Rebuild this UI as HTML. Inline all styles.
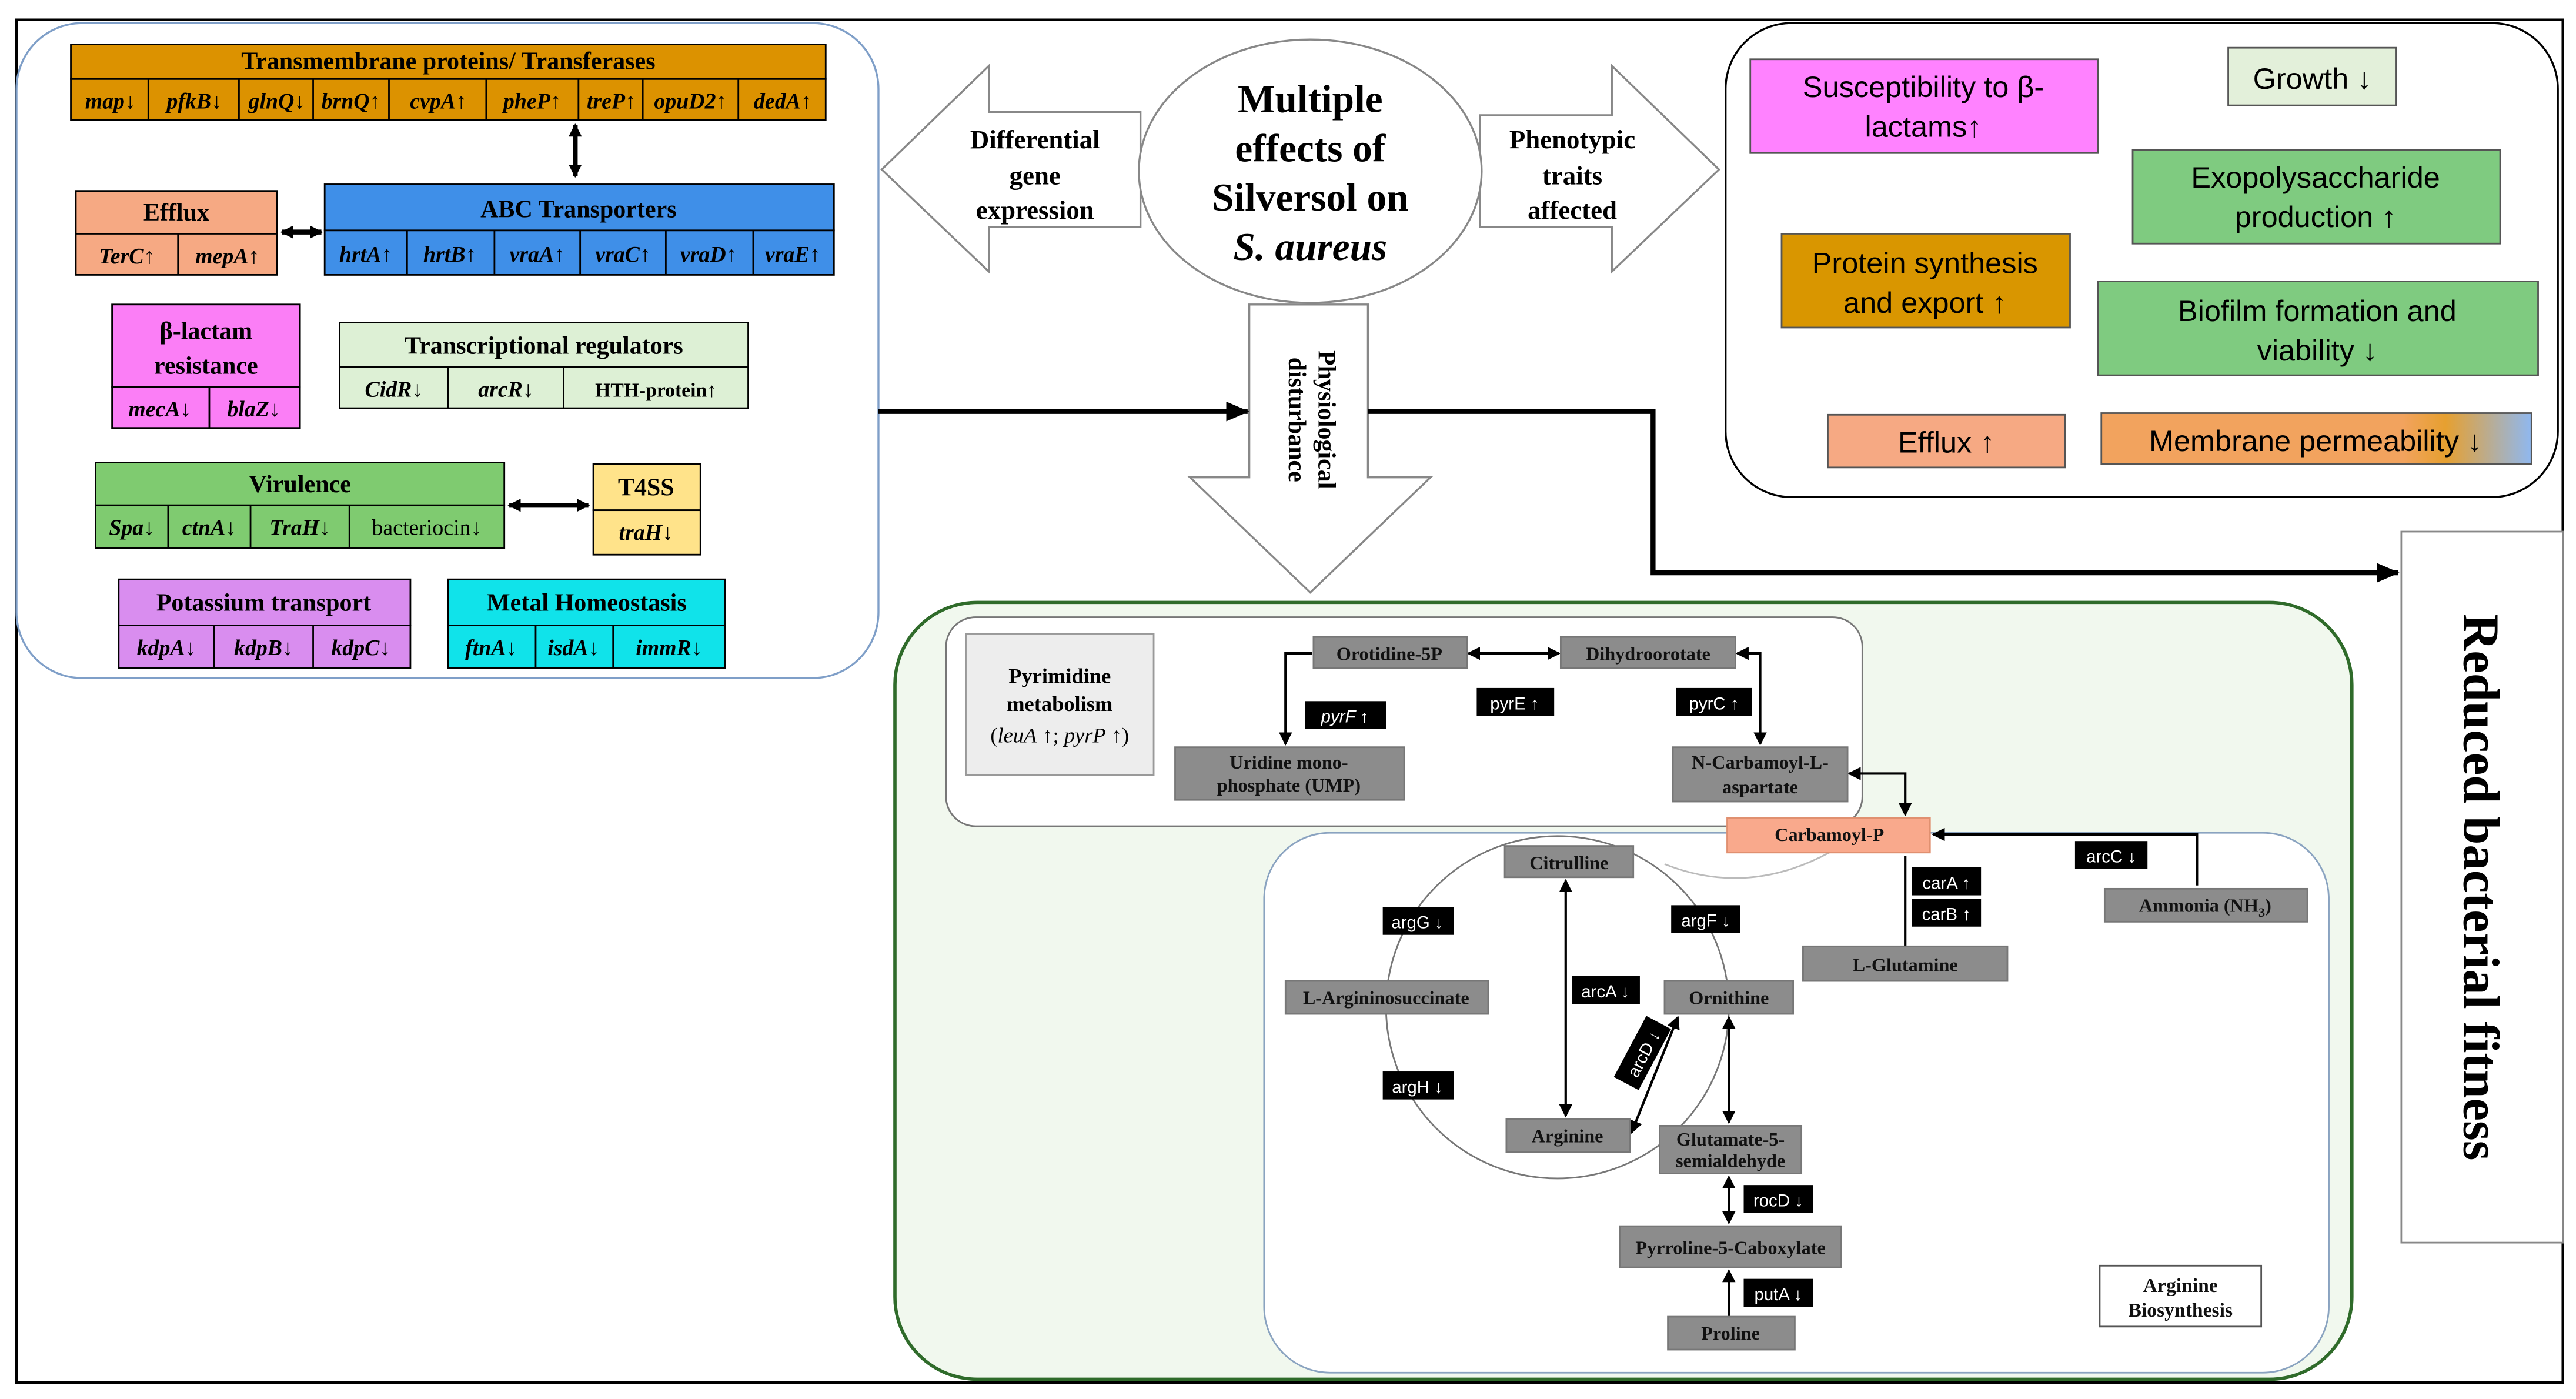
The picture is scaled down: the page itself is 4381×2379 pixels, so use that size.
<!DOCTYPE html>
<html><head><meta charset="utf-8"><style>
html,body{margin:0;padding:0;background:#fff;}
svg{display:block;}
.h{font-family:"Liberation Serif",serif;font-weight:bold;font-size:15px;text-anchor:middle;}
.g{font-family:"Liberation Serif",serif;font-weight:bold;font-style:italic;font-size:13.5px;text-anchor:middle;}
.s{font-family:"Liberation Serif",serif;font-size:19px;text-anchor:middle;}
.p{font-family:"Liberation Sans",sans-serif;font-size:18px;text-anchor:middle;}
.n{font-family:"Liberation Serif",serif;font-weight:bold;font-size:11.5px;text-anchor:middle;fill:#111;}
.b{font-family:"Liberation Sans",sans-serif;font-size:10.5px;text-anchor:middle;fill:#fff;}
</style></head><body>
<svg width="4381" height="2379" viewBox="0 0 1563 850" preserveAspectRatio="none" xmlns="http://www.w3.org/2000/svg">
<defs>
<marker id="a" markerWidth="8" markerHeight="8" refX="7" refY="4" orient="auto-start-reverse" markerUnits="userSpaceOnUse"><path d="M0,0 L8,4 L0,8 z" fill="#000"/></marker>
<marker id="A" markerWidth="14" markerHeight="12" refX="13" refY="6" orient="auto-start-reverse" markerUnits="userSpaceOnUse"><path d="M0,0 L14,6 L0,12 z" fill="#000"/></marker>
<marker id="ga" markerWidth="8" markerHeight="8" refX="7" refY="4" orient="auto" markerUnits="userSpaceOnUse"><path d="M0,0 L8,4 L0,8 z" fill="#666"/></marker>
<linearGradient id="mp" x1="0" x2="1"><stop offset="0.7" stop-color="#F2A35E"/><stop offset="0.8" stop-color="#E6A030"/><stop offset="1" stop-color="#8FB8F0"/></linearGradient>
</defs>
<rect x="0" y="0" width="1563" height="850" fill="#fff"/>
<rect x="10" y="12" width="1545" height="828" fill="none" stroke="#000" stroke-width="1.5"/>

<!-- Left panel -->
<rect x="10" y="14" width="523" height="398" rx="40" fill="#fff" stroke="#7f9fc8" stroke-width="1.2"/>
<g stroke="#000" stroke-width="1">
<rect x="43" y="27" width="458" height="21" fill="#DC9200"/>
<rect x="43" y="48" width="458" height="25" fill="#DC9200"/>
<path d="M90,48V73M145,48V73M190,48V73M236,48V73M295,48V73M351,48V73M390,48V73M448,48V73"/>
</g>
<text class="h" x="272" y="42">Transmembrane proteins/ Transferases</text>
<g class="g"><text x="67" y="66">map↓</text><text x="118" y="66">pfkB↓</text><text x="168" y="66">glnQ↓</text><text x="213" y="66">brnQ↑</text><text x="266" y="66">cvpA↑</text><text x="323" y="66">pheP↑</text><text x="371" y="66">treP↑</text><text x="419" y="66">opuD2↑</text><text x="475" y="66">dedA↑</text></g>
<line x1="349" y1="76" x2="349" y2="107" stroke="#000" stroke-width="3" marker-start="url(#a)" marker-end="url(#a)"/>

<g stroke="#000" stroke-width="1">
<rect x="46" y="116" width="122" height="26" fill="#F6A983"/>
<rect x="46" y="142" width="122" height="25" fill="#F6A983"/>
<path d="M108,142V167"/>
<rect x="197" y="112" width="309" height="28" fill="#3F8FE8"/>
<rect x="197" y="140" width="309" height="27" fill="#3F8FE8"/>
<path d="M247,140V167M300,140V167M352,140V167M404,140V167M457,140V167"/>
</g>
<text class="h" x="107" y="134">Efflux</text>
<g class="g"><text x="77" y="160">TerC↑</text><text x="138" y="160">mepA↑</text></g>
<line x1="171" y1="141" x2="195" y2="141" stroke="#000" stroke-width="3" marker-start="url(#a)" marker-end="url(#a)"/>
<text class="h" x="351" y="132">ABC Transporters</text>
<g class="g"><text x="222" y="159">hrtA↑</text><text x="273" y="159">hrtB↑</text><text x="326" y="159">vraA↑</text><text x="378" y="159">vraC↑</text><text x="430" y="159">vraD↑</text><text x="481" y="159">vraE↑</text></g>

<g stroke="#000" stroke-width="1">
<rect x="68" y="185" width="114" height="50" fill="#FB7EF6"/>
<rect x="68" y="235" width="114" height="25" fill="#FB7EF6"/>
<path d="M127,235V260"/>
<rect x="206" y="196" width="248" height="27" fill="#DDF0D5"/>
<rect x="206" y="223" width="248" height="25" fill="#DDF0D5"/>
<path d="M272,223V248M342,223V248"/>
</g>
<text class="h" x="125" y="206">β-lactam</text><text class="h" x="125" y="227">resistance</text>
<g class="g"><text x="97" y="253">mecA↓</text><text x="154" y="253">blaZ↓</text></g>
<text class="h" x="330" y="215">Transcriptional regulators</text>
<g class="g"><text x="239" y="241">CidR↓</text><text x="307" y="241">arcR↓</text></g>
<text class="h" x="398" y="241" style="font-size:12px">HTH-protein↑</text>

<g stroke="#000" stroke-width="1">
<rect x="58" y="281" width="248" height="26" fill="#7FCB70"/>
<rect x="58" y="307" width="248" height="26" fill="#7FCB70"/>
<path d="M102,307V333M152,307V333M212,307V333"/>
<rect x="360" y="282" width="65" height="28" fill="#FFE38A"/>
<rect x="360" y="310" width="65" height="27" fill="#FFE38A"/>
</g>
<text class="h" x="182" y="299">Virulence</text>
<g class="g"><text x="80" y="325">Spa↓</text><text x="127" y="325">ctnA↓</text><text x="182" y="325">TraH↓</text></g>
<text class="h" x="259" y="325" style="font-weight:normal;font-size:13.5px">bacteriocin↓</text>
<line x1="309" y1="307" x2="357" y2="307" stroke="#000" stroke-width="3" marker-start="url(#a)" marker-end="url(#a)"/>
<text class="h" x="392" y="301">T4SS</text>
<text class="g" x="392" y="328">traH↓</text>

<g stroke="#000" stroke-width="1">
<rect x="72" y="352" width="177" height="28" fill="#D98DEF"/>
<rect x="72" y="380" width="177" height="26" fill="#D98DEF"/>
<path d="M130,380V406M190,380V406"/>
<rect x="272" y="352" width="168" height="28" fill="#10E3EA"/>
<rect x="272" y="380" width="168" height="26" fill="#10E3EA"/>
<path d="M325,380V406M372,380V406"/>
</g>
<text class="h" x="160" y="371">Potassium transport</text>
<g class="g"><text x="101" y="398">kdpA↓</text><text x="160" y="398">kdpB↓</text><text x="219" y="398">kdpC↓</text></g>
<text class="h" x="356" y="371">Metal Homeostasis</text>
<g class="g"><text x="298" y="398">ftnA↓</text><text x="348" y="398">isdA↓</text><text x="406" y="398">immR↓</text></g>

<!-- Center -->
<path d="M692,68 H600 V40 L535,103 L600,165 V138 H692 Z" fill="#fff" stroke="#888" stroke-width="1.2"/>
<text class="h" x="628" y="90" style="font-size:16px">Differential</text>
<text class="h" x="628" y="112" style="font-size:16px">gene</text>
<text class="h" x="628" y="133" style="font-size:16px">expression</text>
<path d="M898,70 H978 V40 L1043,103 L978,165 V138 H898 Z" fill="#fff" stroke="#888" stroke-width="1.2"/>
<text class="h" x="954" y="90" style="font-size:16px">Phenotypic</text>
<text class="h" x="954" y="112" style="font-size:16px">traits</text>
<text class="h" x="954" y="133" style="font-size:16px">affected</text>
<path d="M758,185 H830 V290 H868 L795,360 L722,290 H758 Z" fill="#fff" stroke="#888" stroke-width="1.2"/>
<g transform="translate(795,255) rotate(90)"><text class="h" x="0" y="-5" style="font-size:15px">Physiological</text><text class="h" x="0" y="13" style="font-size:15px">disturbance</text></g>
<ellipse cx="795" cy="104" rx="104" ry="80" fill="#fff" stroke="#888" stroke-width="1.2"/>
<g class="h" style="font-size:24px"><text x="795" y="68">Multiple</text><text x="795" y="98">effects of</text><text x="795" y="128">Silversol on</text><text x="795" y="158" font-style="italic">S. aureus</text></g>

<line x1="533" y1="250" x2="757" y2="250" stroke="#000" stroke-width="3" marker-end="url(#A)"/>
<polyline points="830,250 1003,250 1003,348 1455,348" fill="none" stroke="#000" stroke-width="3" marker-end="url(#A)"/>

<!-- Right top panel -->
<rect x="1047" y="14" width="505" height="288" rx="40" fill="#fff" stroke="#000" stroke-width="1.2"/>
<g stroke="#555" stroke-width="1">
<rect x="1062" y="36" width="211" height="57" fill="#FF82FF"/>
<rect x="1352" y="29" width="102" height="35" fill="#E3F0DA"/>
<rect x="1294" y="91" width="223" height="57" fill="#7FCB80"/>
<rect x="1081" y="142" width="175" height="57" fill="#D99600"/>
<rect x="1273" y="171" width="267" height="57" fill="#7FCB80"/>
<rect x="1109" y="252" width="144" height="32" fill="#F6A983"/>
<rect x="1275" y="251" width="261" height="31" fill="url(#mp)"/>
</g>
<text class="p" x="1167" y="59">Susceptibility to β-</text><text class="p" x="1167" y="83">lactams↑</text>
<text class="p" x="1403" y="54">Growth ↓</text>
<text class="p" x="1405" y="114">Exopolysaccharide</text><text class="p" x="1405" y="138">production ↑</text>
<text class="p" x="1168" y="166">Protein synthesis</text><text class="p" x="1168" y="190">and export ↑</text>
<text class="p" x="1406" y="195">Biofilm formation and</text><text class="p" x="1406" y="219">viability ↓</text>
<text class="p" x="1181" y="275">Efflux ↑</text>
<text class="p" x="1405" y="274">Membrane permeability ↓</text>

<!-- Reduced fitness -->
<rect x="1457" y="323" width="98" height="432" fill="#fff" stroke="#888" stroke-width="1"/>
<g transform="translate(1506,539) rotate(90)"><text class="h" x="0" y="11" style="font-size:31px">Reduced bacterial fitness</text></g>

<!-- Bottom panel -->
<rect x="543" y="366" width="884" height="472" rx="50" fill="#F1F8EE" stroke="#2F6B2A" stroke-width="2"/>
<rect x="574" y="375" width="556" height="127" rx="18" fill="#fff" stroke="#777" stroke-width="1"/>
<rect x="767" y="506" width="646" height="328" rx="40" fill="#fff" stroke="#8aa3c0" stroke-width="1"/>
<rect x="586" y="385" width="114" height="86" fill="#EDEDED" stroke="#999"/>
<text class="h" x="643" y="415" style="font-size:13px">Pyrimidine</text>
<text class="h" x="643" y="432" style="font-size:13px">metabolism</text>
<text class="h" x="643" y="451" style="font-size:13px;font-weight:normal">(<tspan font-style="italic">leuA</tspan> ↑; <tspan font-style="italic">pyrP</tspan> ↑)</text>

<!-- circle -->
<circle cx="945" cy="612" r="104" fill="none" stroke="#777" stroke-width="1"/>
<path d="M1110,518 Q1060,545 1010,525" fill="none" stroke="#bbb" stroke-width="1"/>

<!-- connectors -->
<g stroke="#000" stroke-width="1.5" fill="none">
<line x1="891" y1="397" x2="946" y2="397" marker-start="url(#a)" marker-end="url(#a)"/>
<polyline points="796,397 780,397 780,452" marker-end="url(#a)"/>
<polyline points="1054,397 1068,397 1068,452" marker-start="url(#a)" marker-end="url(#a)"/>
<polyline points="1122,470 1156,470 1156,495" marker-start="url(#a)" marker-end="url(#a)"/>
<polyline points="1333,538 1333,507 1173,507" marker-end="url(#a)"/>
<line x1="1156" y1="575" x2="1156" y2="520"/>
<line x1="950" y1="535" x2="950" y2="678" marker-start="url(#a)" marker-end="url(#a)"/>
<line x1="1049" y1="618" x2="1049" y2="682" marker-start="url(#a)" marker-end="url(#a)"/>
<line x1="1049" y1="715" x2="1049" y2="743" marker-start="url(#a)" marker-end="url(#a)"/>
<line x1="1049" y1="800" x2="1049" y2="772" marker-end="url(#a)"/>
<line x1="990" y1="688" x2="1018" y2="618" marker-start="url(#a)" marker-end="url(#a)"/>
</g>

<!-- grey nodes -->
<g fill="#8C8C8C" stroke="#777">
<rect x="797" y="387" width="93" height="19"/>
<rect x="947" y="387" width="106" height="19"/>
<rect x="713" y="454" width="139" height="32"/>
<rect x="1015" y="454" width="106" height="33"/>
<rect x="913" y="514" width="78" height="19"/>
<rect x="780" y="596" width="123" height="20"/>
<rect x="1010" y="596" width="78" height="20"/>
<rect x="914" y="680" width="75" height="20"/>
<rect x="1007" y="684" width="86" height="29"/>
<rect x="983" y="745" width="134" height="25"/>
<rect x="1012" y="800" width="77" height="20"/>
<rect x="1094" y="575" width="124" height="21"/>
<rect x="1277" y="540" width="123" height="20"/>
</g>
<rect x="1048" y="497" width="123" height="21" fill="#F9A98C" stroke="#e09070"/>
<g class="n">
<text x="843" y="401">Orotidine-5P</text>
<text x="1000" y="401">Dihydroorotate</text>
<text x="782" y="467">Uridine mono-</text><text x="782" y="481">phosphate (UMP)</text>
<text x="1068" y="467">N-Carbamoyl-L-</text><text x="1068" y="482">aspartate</text>
<text x="1110" y="511">Carbamoyl-P</text>
<text x="952" y="528">Citrulline</text>
<text x="841" y="610">L-Argininosuccinate</text>
<text x="1049" y="610">Ornithine</text>
<text x="951" y="694">Arginine</text>
<text x="1050" y="696">Glutamate-5-</text><text x="1050" y="709">semialdehyde</text>
<text x="1050" y="762">Pyrroline-5-Caboxylate</text>
<text x="1050" y="814">Proline</text>
<text x="1156" y="590">L-Glutamine</text>
<text x="1338" y="554">Ammonia (NH<tspan font-size="8" dy="3">3</tspan><tspan dy="-3">)</tspan></text>
</g>

<!-- black labels -->
<g fill="#000">
<rect x="792" y="426" width="49" height="17"/>
<rect x="896" y="418" width="47" height="17"/>
<rect x="1017" y="418" width="46" height="17"/>
<rect x="1160" y="527" width="42" height="17"/>
<rect x="1160" y="546" width="42" height="17"/>
<rect x="1259" y="511" width="44" height="17"/>
<rect x="839" y="551" width="43" height="17"/>
<rect x="1014" y="550" width="42" height="17"/>
<rect x="954" y="593" width="41" height="17"/>
<rect x="839" y="651" width="43" height="17"/>
<rect x="1058" y="720" width="42" height="17"/>
<rect x="1058" y="777" width="42" height="17"/>
<rect x="976" y="631" width="42" height="17" transform="rotate(-62 997 640)"/>
</g>
<g class="b">
<text x="816" y="439" font-style="italic">pyrF ↑</text>
<text x="919" y="431">pyrE ↑</text>
<text x="1040" y="431">pyrC ↑</text>
<text x="1181" y="540">carA ↑</text>
<text x="1181" y="559">carB ↑</text>
<text x="1281" y="524">arcC ↓</text>
<text x="860" y="564">argG ↓</text>
<text x="1035" y="563">argF ↓</text>
<text x="974" y="606">arcA ↓</text>
<text x="860" y="664">argH ↓</text>
<text x="1079" y="733">rocD ↓</text>
<text x="1079" y="790">putA ↓</text>
<text x="997" y="644" transform="rotate(-62 997 640)">arcD ↓</text>
</g>
<rect x="1274" y="769" width="98" height="37" fill="#fff" stroke="#555"/>
<text class="n" x="1323" y="785" style="font-size:12px">Arginine</text>
<text class="n" x="1323" y="800" style="font-size:12px">Biosynthesis</text>
</svg>
</body></html>
